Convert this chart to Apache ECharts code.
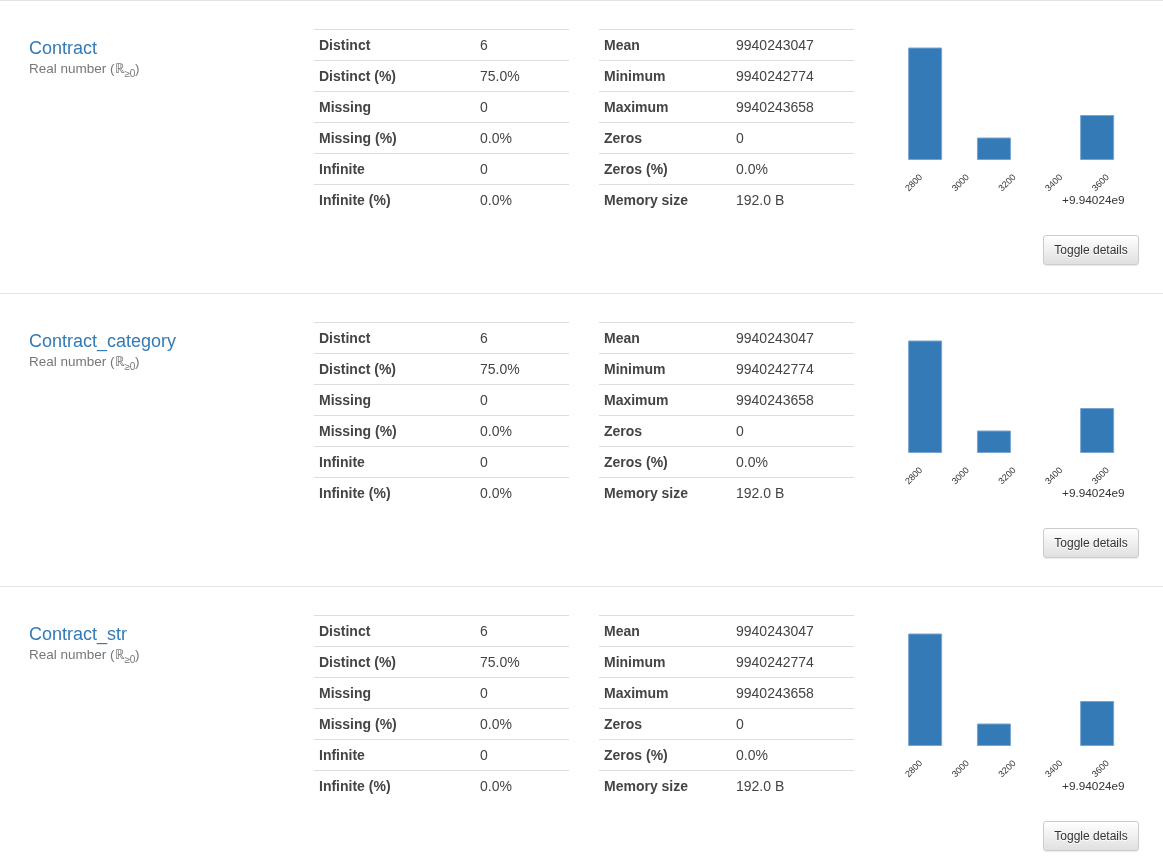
<!DOCTYPE html>
<html><head><meta charset="utf-8">
<script src="https://cdn.jsdelivr.net/npm/echarts@6/dist/echarts.min.js"></script>
<style>
html,body{margin:0;padding:0;background:#fff;width:1163px;height:858px;overflow:hidden;font-family:"Liberation Sans",Arial,sans-serif;color:#444;}
#chart{position:absolute;left:0;top:0;width:1163px;height:858px;}
.a{position:absolute;white-space:nowrap;}
.sep{position:absolute;left:0;width:1163px;height:1px;background:#e3e3e8;}
.title{font-size:18px;line-height:20px;color:#337ab7;left:29px;}
.sub{font-size:13.5px;line-height:20px;color:#777;left:29px;}
.sub sub{font-size:10px;line-height:0;letter-spacing:-0.3px;}
.row{position:absolute;height:30px;border-top:1px solid #ddd;font-size:14px;line-height:30px;width:255px;}
.row b{position:absolute;left:5px;font-weight:bold;}
.row span{position:absolute;}
.off{font-size:11.8px;line-height:14px;color:#333;}
.btn{position:absolute;left:1043px;width:94px;height:28px;border:1px solid #ccc;border-radius:3px;
background:linear-gradient(#fff,#e0e0e0);font-size:12px;line-height:28px;text-align:center;color:#333;text-shadow:0 1px 0 #fff;box-shadow:0 1px 1px rgba(0,0,0,.08);}
</style></head><body>
<div id="chart"></div>
<script>
const variableNames = ['Contract','Contract_category','Contract_str'];
const subtitle = 'Real number (ℝ<sub>≥0</sub>)';
const leftLabels = ['Distinct','Distinct (%)','Missing','Missing (%)','Infinite','Infinite (%)'];
const leftValues = ['6','75.0%','0','0.0%','0','0.0%'];
const rightLabels = ['Mean','Minimum','Maximum','Zeros','Zeros (%)','Memory size'];
const rightValues = ['9940243047','9940242774','9940243658','0','0.0%','192.0 B'];
const binCenters = [2847.67, 3142.33, 3584.33];
const binCounts = [5, 1, 2];
const tickLabels = ['2800','3000','3200','3400','3600'];
const offsetText = '+9.94024e9';
const buttonText = 'Toggle details';
const sectionStep = 293;

function add(html){document.body.insertAdjacentHTML('beforeend',html);}
const grids=[],xAxes=[],yAxes=[],series=[];
variableNames.forEach((name,s)=>{
  const dy=s*sectionStep;
  add(`<div class="sep" style="top:${dy}px"></div>`);
  add(`<div class="a title" style="top:${dy+38}px">${name}</div>`);
  add(`<div class="a sub" style="top:${dy+58.5}px">${subtitle}</div>`);
  leftLabels.forEach((l,i)=>add(`<div class="row" style="left:314px;top:${dy+29+i*31}px"><b>${l}</b><span style="left:166px">${leftValues[i]}</span></div>`));
  rightLabels.forEach((l,i)=>add(`<div class="row" style="left:599px;top:${dy+29+i*31}px"><b>${l}</b><span style="left:137px">${rightValues[i]}</span></div>`));
  add(`<div class="a off" style="left:1062px;top:${dy+193}px">${offsetText}</div>`);
  add(`<div class="btn" style="top:${dy+235}px">${buttonText}</div>`);
  grids.push({left:914,width:186.8,top:47.5+dy,height:112.5});
  xAxes.push({type:'value',gridIndex:s,min:2800,max:3600,interval:200,splitLine:{show:false},axisLine:{show:false},axisTick:{show:false},
    axisLabel:{rotate:45,fontSize:9,color:'#333',fontFamily:'Liberation Sans',margin:23,align:'center',verticalAlign:'middle',
      showMinLabel:true,showMaxLabel:true,hideOverlap:false,formatter:v=>tickLabels[(v-2800)/200]}});
  yAxes.push({type:'value',gridIndex:s,min:0,max:5,show:false});
  series.push({type:'bar',xAxisIndex:s,yAxisIndex:s,clip:false,barWidth:34,silent:true,
    itemStyle:{color:'#337ab7',borderColor:'#77a5cf',borderWidth:1},
    data:binCenters.map((c,i)=>[c,binCounts[i]])});
});
const chart=echarts.init(document.getElementById('chart'));
chart.setOption({animation:false,grid:grids,xAxis:xAxes,yAxis:yAxes,series:series});
</script>
</body></html>
